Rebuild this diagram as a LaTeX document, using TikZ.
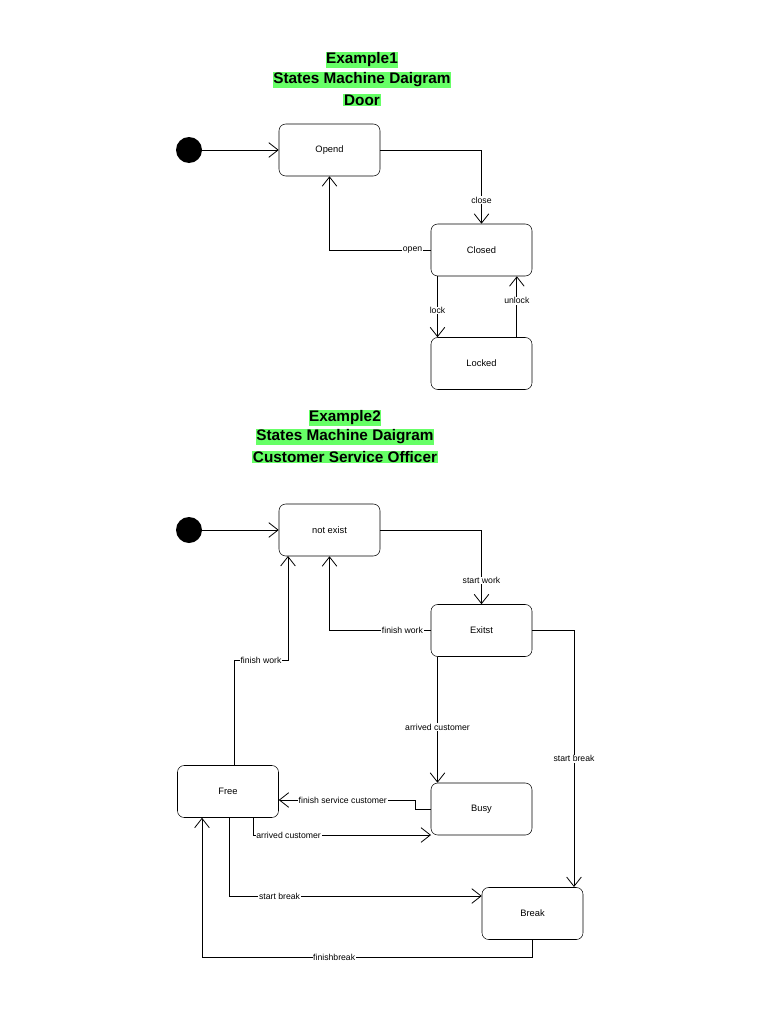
\documentclass[tikz,border=0pt]{standalone}
\usepackage{fontspec}
\setmainfont{Liberation Sans}
\usetikzlibrary{arrows.meta,positioning}
\definecolor{hilite}{RGB}{102,255,102}
\tikzset{
  state/.style={draw,rounded corners=5pt,minimum width=75.75pt,minimum height=39pt,font=\fontsize{7}{8}\selectfont},
  start/.style={circle,fill=black,minimum size=19.5pt,inner sep=0pt},
  lbl/.style={fill=white,inner sep=0.5pt,font=\fontsize{6.5}{7}\selectfont},
  ttl/.style={fill=hilite,inner sep=0.5pt,font=\bfseries\fontsize{11.5}{12}\selectfont},
  tr/.style={-{Straight Barb[length=7pt,width=11pt]},line width=0.6pt}
}
\begin{document}
\begin{tikzpicture}[x=0.75pt,y=-0.75pt]
\useasboundingbox (0,0) rectangle (768,1024);
% Example 1: door
\node[ttl] (t1a) at (362,60) {Example1};
\node[ttl] (t1b) at (362,80) {States Machine Daigram};
\node[ttl] (t1c) at (362,100) {Door};
\node[start] (s1) at (189,150) {};
\node[state] (opend) at (329.5,150) {Opend};
\node[state] (closed) at (481.5,250) {Closed};
\node[state] (locked) at (481.5,363.5) {Locked};
\draw[tr] (s1) -- (opend);
\draw[tr] (opend.east) -| node[lbl,pos=0.84] {close} (closed.north);
\draw[tr] (closed.west) -| node[lbl,pos=0.09] {open} (opend.south);
\draw[tr] ([xshift=-33pt]closed.south) -- node[lbl,pos=0.56] {lock} ([xshift=-33pt]locked.north);
\draw[tr] ([xshift=26.5pt]locked.north) -- node[lbl,pos=0.6] {unlock} ([xshift=26.5pt]closed.south);
% Example 2: customer service officer
\node[ttl] (t2a) at (345,418) {Example2};
\node[ttl] (t2b) at (345,437) {States Machine Daigram};
\node[ttl] (t2c) at (345,457) {Customer Service Officer};
\node[start] (s2) at (189,530) {};
\node[state] (notexist) at (329.5,530) {not exist};
\node[state] (exitst) at (481.5,630.5) {Exitst};
\node[state] (busy) at (481.5,809) {Busy};
\node[state] (free) at (228,791.5) {Free};
\node[state] (brk) at (532.5,913.5) {Break};
\coordinate (fw) at (234,660);
\coordinate (fs) at (415,800);
\coordinate (fb) at (202,957);
\draw[tr] (s2) -- (notexist);
\draw[tr] (notexist.east) -| node[lbl,pos=0.84] {start work} (exitst.north);
\draw[tr] (exitst.west) -| node[lbl,pos=0.14] {finish work} (notexist.south);
\draw[tr] (free.north -| fw) -- (fw) -- node[lbl,pos=0.5] {finish work} (fw -| 288,0) -- (288,556);
\draw[tr] ([xshift=-33pt]exitst.south) -- node[lbl,pos=0.56] {arrived customer} ([xshift=-33pt]busy.north);
\draw[tr] (exitst.east) -- (574,630.5) -- node[lbl,pos=0.5] {start break} (574,887);
\draw[tr] (busy.west) -| (fs) -- node[lbl,pos=0.53] {finish service customer} (free.east |- fs);
\draw[tr] (253,818) |- node[lbl,pos=0.6] {arrived customer} (431,835);
\draw[tr] (229,818) |- node[lbl,pos=0.6] {start break} (brk.west |- 0,896);
\draw[tr] (brk.south) |- node[lbl,pos=0.8] {finishbreak} (fb) -- (fb |- free.south);
\end{tikzpicture}
\end{document}
